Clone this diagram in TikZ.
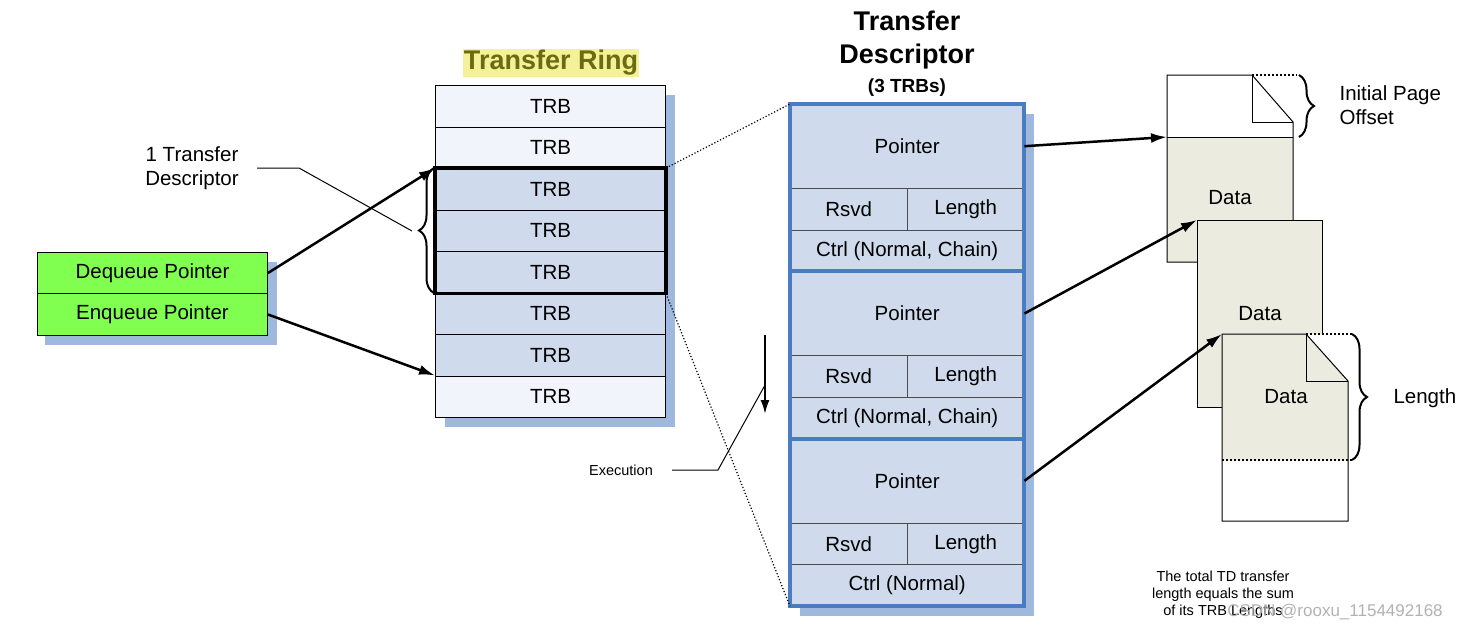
\documentclass[tikz,border=0pt]{standalone}
\usepackage{fontspec}
\setmainfont{Liberation Sans}
\usetikzlibrary{arrows.meta,decorations.pathreplacing}
\definecolor{shd}{HTML}{9FB8DE}
\definecolor{lite}{HTML}{F1F4FB}
\definecolor{trbf}{HTML}{CFDBEC}
\definecolor{grn}{HTML}{80FF50}
\definecolor{tdb}{HTML}{4A7CC0}
\definecolor{dataf}{HTML}{EBEBDF}
\definecolor{hl}{HTML}{F5F09A}
\definecolor{olive}{HTML}{6B6B10}
\begin{document}
\begin{tikzpicture}[x=1pt,y=-1pt,
  lbl/.style={font=\fontsize{20.5}{24}\selectfont},
  sm/.style={font=\fontsize{14.5}{17}\selectfont,align=center},
  cell/.style={draw,line width=1pt},
  arr/.style={line width=2.5pt,-{Latex[length=16pt,width=10pt]}},
  br/.style={decorate,decoration={brace,amplitude=15pt},line width=2pt}]
\useasboundingbox (0,0) rectangle (1474,632);
% green pointers
\fill[shd] (45,262) rectangle (277,345);
\node[cell,fill=grn,minimum width=230pt,minimum height=41pt,anchor=north west,inner sep=0,lbl] (deq) at (37,252) {Dequeue Pointer};
\node[cell,fill=grn,minimum width=230pt,minimum height=42pt,anchor=north west,inner sep=0,lbl] (enq) at (37,293) {Enqueue Pointer};
% ring
\node[fill=hl,text=olive,font=\bfseries\fontsize{27}{29}\selectfont,inner sep=1pt] (title) at (551,63) {Transfer Ring};
\fill[shd] (445,95) rectangle (675,427);
\foreach \i/\f in {0/lite,1/lite,2/trbf,3/trbf,4/trbf,5/trbf,6/trbf,7/lite}{
  \node[cell,fill=\f,minimum width=230pt,minimum height=41.5pt,anchor=north west,inner sep=0,lbl] (r\i) at (435,85+41.5*\i) {TRB};
}
\draw[line width=3.5pt] (r2.north west) rectangle (r4.south east);
\draw[br] (434,293) -- (434,168);
\node[lbl,align=center] (td1) at (192,168) {1 Transfer\\Descriptor};
\coordinate (bt) at (412,231);
\draw[line width=1pt] (257,168) -- (299,168) -- (bt);
\draw[arr] (deq.east) -- (r2.north west);
\draw[arr] (enq.east) -- (r7.north west);
% TD
\node[font=\bfseries\fontsize{27}{33}\selectfont,align=center] (tdt) at (907,40) {Transfer\\Descriptor};
\node[font=\bfseries\fontsize{19}{21}\selectfont] (tdt2) at (907,88) {(3 TRBs)};
\fill[shd] (800,114) rectangle (1034,616);
\foreach \g in {0,1,2}{
  \pgfmathsetmacro{\yy}{104+167.33*\g}
  \node[draw=black!70,fill=trbf,minimum width=234pt,minimum height=84pt,anchor=north west,inner sep=0,lbl] (p\g) at (790,\yy) {Pointer};
  \node[draw=black!70,fill=trbf,minimum width=117pt,minimum height=41.7pt,anchor=north west,inner sep=0,lbl] (rs\g) at (790,\yy+84) {Rsvd};
  \node[draw=black!70,fill=trbf,minimum width=117pt,minimum height=41.7pt,anchor=north west,inner sep=0,lbl] (ln\g) at (907,\yy+84) {Length};
}
\node[draw=black!70,fill=trbf,minimum width=234pt,minimum height=41.6pt,anchor=north west,inner sep=0,lbl] (c0) at (790,229.7) {Ctrl (Normal, Chain)};
\node[draw=black!70,fill=trbf,minimum width=234pt,minimum height=41.6pt,anchor=north west,inner sep=0,lbl] (c1) at (790,397) {Ctrl (Normal, Chain)};
\node[draw=black!70,fill=trbf,minimum width=234pt,minimum height=41.6pt,anchor=north west,inner sep=0,lbl] (c2) at (790,564.3) {Ctrl (Normal)};
\draw[tdb,line width=4pt] (790,104) rectangle (1024,606);
\draw[tdb,line width=4pt] (790,271.3) -- (1024,271.3) (790,438.7) -- (1024,438.7);
\draw[dotted,line width=1.2pt] (r2.north east) -- (p0.north west);
\draw[dotted,line width=1.2pt] (r4.south east) -- (c2.south west);
% execution
\coordinate (ex1) at (765,335);
\coordinate (ex2) at (765,414);
\draw[line width=2pt,-{Latex[length=14pt,width=9pt]}] (ex1) -- (ex2);
\node[sm] (exe) at (621,470) {Execution};
\draw[line width=1pt] (672,470) -- (718,470) -- (765,385);
% pages
\coordinate (pg1a) at (1252,75);
\fill[dataf] (1167,137) rectangle (1293,262);
\draw[line width=1pt] (1167,75) -- (1252,75) -- (1293,122) -- (1293,262) -- (1167,262) -- cycle;
\draw[line width=1pt] (1252,75) -- (1252,122) -- (1293,122);
\draw[line width=0.6pt] (1167,137) -- (1293,137);
\node[lbl] (d1) at (1230,198) {Data};
\draw[dash pattern=on 2pt off 2pt,line width=1.2pt] (pg1a) -- (1297,75);
\draw[br] (1299,75) -- (1299,137);
\node[lbl,align=left,anchor=west] (ipo) at (1336,105) {Initial Page\\Offset};
\node[draw,line width=1pt,fill=dataf,minimum width=125pt,minimum height=187pt,anchor=north west,inner sep=0] (pg2) at (1197,220) {};
\node[lbl] (d2) at (1260,314) {Data};
\fill[white] (1222,334) rectangle (1348,521);
\fill[dataf] (1222,334) -- (1306,334) -- (1348,381) -- (1348,460) -- (1222,460) -- cycle;
\draw[line width=1pt] (1222,334) -- (1306,334) -- (1348,381) -- (1348,521) -- (1222,521) -- cycle;
\draw[line width=1pt] (1306,334) -- (1306,381) -- (1348,381);
\draw[dash pattern=on 2pt off 2pt,line width=1.2pt] (1222,460) -- (1352,460) (1306,334) -- (1352,334);
\node[lbl] (d3) at (1286,397) {Data};
\draw[br] (1352,334) -- (1352,460);
\node[lbl,anchor=west] (lng) at (1390,398) {Length};
\coordinate (t1) at (1167,137);
\coordinate (t2) at (1197,220);
\coordinate (t3) at (1222,334);
\draw[arr] (p0.east) -- (t1);
\draw[arr] (p1.east) -- (t2);
\draw[arr] (p2.east) -- (t3);
\node[sm] (tot) at (1223,595) {The total TD transfer\\length equals the sum\\of its TRB Lengths};
\node[text=black!30,font=\fontsize{17}{19}\selectfont] (wm) at (1335,612) {CSDN @rooxu\_1154492168};
\end{tikzpicture}
\end{document}
